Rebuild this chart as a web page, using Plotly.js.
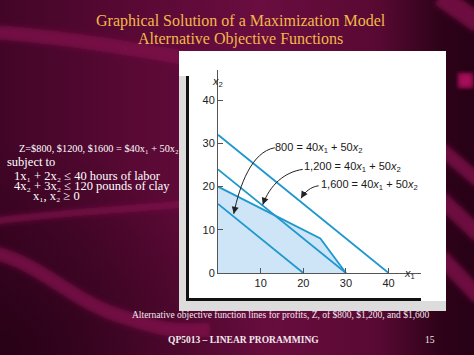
<!DOCTYPE html>
<html><head><meta charset="utf-8">
<script src="https://cdn.plot.ly/plotly-3.0.1.min.js"></script>
<style>
html,body{margin:0;padding:0;width:474px;height:355px;overflow:hidden;background:#4a0629;}
#bg{position:absolute;left:0;top:0;width:474px;height:355px;}
#chart{position:absolute;left:0;top:0;width:474px;height:355px;}
.p{position:absolute}
</style></head><body>
<svg id="bg" width="474" height="355" xmlns="http://www.w3.org/2000/svg">
  <defs>
    <linearGradient id="g1" x1="0" y1="0" x2="1" y2="0">
      <stop offset="0" stop-color="#420527"/>
      <stop offset="0.3" stop-color="#5a0935"/>
      <stop offset="0.55" stop-color="#6a0d40"/>
      <stop offset="0.8" stop-color="#580932"/>
      <stop offset="0.93" stop-color="#2e0219"/>
      <stop offset="1" stop-color="#270115"/>
    </linearGradient>
    <radialGradient id="g2" cx="0" cy="1" r="0.6">
      <stop offset="0" stop-color="#1e0010" stop-opacity="0.75"/>
      <stop offset="1" stop-color="#1e0010" stop-opacity="0"/>
    </radialGradient>
    <filter id="bl"><feGaussianBlur stdDeviation="2.5"/></filter>
  </defs>
  <rect width="474" height="355" fill="url(#g1)"/>
  <rect width="474" height="355" fill="url(#g2)"/>
  <g filter="url(#bl)" fill="none" stroke="#7e104b" stroke-opacity="0.8">
    <path d="M -10 32 C 60 36 140 50 220 64" stroke-width="14"/>
    <path d="M -10 222 C 40 214 120 210 185 204" stroke-width="7"/>
    <path d="M -10 252 C 40 262 70 300 120 316 S 170 330 210 330" stroke-width="14"/>
    <path d="M 440 -4 L 480 24" stroke-width="20"/>
    <path d="M 440 148 L 480 182" stroke-width="14"/>
    <path d="M 440 198 L 480 236" stroke-width="16"/>
    <path d="M 440 256 L 480 298" stroke-width="16"/>
  </g>
  <rect x="458" y="73" width="15" height="15" fill="#a8115a" filter="url(#bl)"/>
</svg>
<div class="p" style="left:179px;top:51px;width:267px;height:260px;background:#ffffff"></div>
<div class="p" style="left:179px;top:76px;width:7px;height:235px;background:#dcdcdc"></div>
<div class="p" style="left:179px;top:301px;width:267px;height:10px;background:#dcdcdc"></div>
<div class="p" style="left:186px;top:76px;width:3px;height:225px;background:#111"></div>
<div class="p" style="left:186px;top:298px;width:235px;height:3px;background:#111"></div>
<div id="chart"></div>
<script>
// ---- data ----
const x1Ticks = [10, 20, 30, 40];
const x2Ticks = [0, 10, 20, 30, 40];
const line800X = [0, 20];   const line800Y = [16, 0];
const line1200X = [0, 30];  const line1200Y = [24, 0];
const line1600X = [0, 40];  const line1600Y = [32, 0];
const regionX = [0, 30, 24, 0, 0];
const regionY = [0, 0, 8, 20, 0];
const borderX = [0, 24, 30];
const borderY = [20, 8, 0];
const lineLabels = ['800 = 40<i>x</i><sub>1</sub> + 50<i>x</i><sub>2</sub>',
                    '1,200 = 40<i>x</i><sub>1</sub> + 50<i>x</i><sub>2</sub>',
                    '1,600 = 40<i>x</i><sub>1</sub> + 50<i>x</i><sub>2</sub>'];
const labelX = [12.9, 19.8, 23.6];
const labelY = [28.9, 24.6, 20.4];
// curved leader arrows (cubic: start, ctrl1, ctrl2, head)
const arrowPts = [
  [[13.31, 29.0], [7.9, 28.05], [5.09, 20.4], [3.69, 13.7]],
  [[19.87, 23.99], [15.65, 23.4], [12.13, 20.4], [10.5, 15.8]],
  [[23.6, 20.2], [21.76, 19.95], [20.35, 18.8], [19.48, 17.3]]
];
const headOffsets = [[2, -9], [3, -8.5], [4.5, -7.7]];
const titleLines = ['Graphical Solution of a Maximization Model', 'Alternative Objective Functions'];
const modelLines = ['Z=$800, $1200, $1600 = $40x₁ + 50x₂',
                    'subject to',
                    '1x₁ + 2x₂ ≤ 40 hours of labor',
                    '4x₂ + 3x₂ ≤ 120 pounds of clay',
                    'x₁, x₂ ≥ 0'];
const caption = 'Alternative objective function lines for profits, Z, of $800, $1,200, and $1,600';
const footer = 'QP5013 – LINEAR PRORAMMING';
const pageNo = '15';

// ---- layout helpers (pixel -> paper) ----
const L = 218, R = 421, T = 70, B = 273;
const PX = x => (x - L) / (R - L);
const PY = y => (B - y) / (B - T);

const BLUE = '#1f97cf';
const traces = [
  {x: regionX, y: regionY, mode: 'lines', fill: 'toself', fillcolor: '#cde5f6',
   line: {width: 0, color: 'rgba(0,0,0,0)'}, hoverinfo: 'skip'},
  {x: borderX, y: borderY, mode: 'lines', line: {color: BLUE, width: 1.8}},
  {x: line800X, y: line800Y, mode: 'lines', line: {color: BLUE, width: 1.8}},
  {x: line1200X, y: line1200Y, mode: 'lines', line: {color: BLUE, width: 1.8}},
  {x: line1600X, y: line1600Y, mode: 'lines', line: {color: BLUE, width: 1.8}}
];

const shapes = arrowPts.map(p => ({
  type: 'path', xref: 'x', yref: 'y',
  path: `M ${p[0][0]} ${p[0][1]} C ${p[1][0]} ${p[1][1]} ${p[2][0]} ${p[2][1]} ${p[3][0]} ${p[3][1]}`,
  line: {color: '#222', width: 1}
}));

const annotations = [];
const sans = 'Liberation Sans, Arial, sans-serif';
const serif = 'Liberation Serif, Times New Roman, serif';
lineLabels.forEach((t, i) => annotations.push({
  x: labelX[i], y: labelY[i], xref: 'x', yref: 'y', text: t, showarrow: false,
  xanchor: 'left', yanchor: 'middle', font: {family: sans, size: 11, color: '#1a1a1a'}
}));
arrowPts.forEach((p, i) => annotations.push({
  x: p[3][0], y: p[3][1], xref: 'x', yref: 'y', text: '', showarrow: true,
  ax: headOffsets[i][0], ay: headOffsets[i][1], arrowhead: 2, arrowsize: 1.4,
  arrowwidth: 1, arrowcolor: '#222', standoff: 0
}));
// axis labels
annotations.push({x: PX(417), y: PY(283), xref: 'paper', yref: 'paper', showarrow: false,
  text: '<i>x</i><sub>1</sub>', font: {family: sans, size: 11, color: '#222'}});
annotations.push({x: PX(210), y: PY(73), xref: 'paper', yref: 'paper', showarrow: false,
  text: '<i>x</i><sub>2</sub>', font: {family: sans, size: 11, color: '#222'}});
// slide title
const titleY = [21, 39];
titleLines.forEach((t, i) => annotations.push({
  x: PX(240.5), y: PY(titleY[i]), xref: 'paper', yref: 'paper', showarrow: false,
  text: t, xanchor: 'center', yanchor: 'middle',
  font: {family: serif, size: 16, color: '#f2b84a'}
}));
// model text
const modelX = [18, 6, 13, 13, 32];
const modelY = [148, 162, 175.5, 185.5, 195.5];
const modelSize = [10.3, 12.5, 12.5, 12.5, 12.5];
modelLines.forEach((t, i) => annotations.push({
  x: PX(modelX[i]), y: PY(modelY[i]), xref: 'paper', yref: 'paper', showarrow: false,
  text: t, xanchor: 'left', yanchor: 'middle', borderpad: 0,
  font: {family: serif, size: modelSize[i], color: '#ffffff'}
}));
annotations.push({x: PX(130), y: PY(315), xref: 'paper', yref: 'paper', showarrow: false,
  text: caption, xanchor: 'left', yanchor: 'middle',
  font: {family: serif, size: 9.5, color: '#f4e8ee'}});
annotations.push({x: PX(243), y: PY(340), xref: 'paper', yref: 'paper', showarrow: false,
  text: '<b>' + footer + '</b>', xanchor: 'center', yanchor: 'middle',
  font: {family: serif, size: 9.5, color: '#f4e8ee'}});
annotations.push({x: PX(430), y: PY(340), xref: 'paper', yref: 'paper', showarrow: false,
  text: pageNo, xanchor: 'center', yanchor: 'middle',
  font: {family: serif, size: 9.5, color: '#f4e8ee'}});

const axisCommon = {
  showgrid: false, zeroline: false, showline: true, linecolor: '#555', linewidth: 1,
  ticks: 'inside', ticklen: 5, tickcolor: '#555', tickwidth: 1,
  tickfont: {family: sans, size: 11, color: '#222'}, fixedrange: true
};
const layout = {
  width: 474, height: 355,
  margin: {l: L, r: 474 - R, t: T, b: 355 - B, pad: 0},
  paper_bgcolor: 'rgba(0,0,0,0)', plot_bgcolor: 'rgba(0,0,0,0)',
  showlegend: false,
  xaxis: Object.assign({}, axisCommon, {range: [0, 47.6], tickvals: x1Ticks}),
  yaxis: Object.assign({}, axisCommon, {range: [0, 47], tickvals: x2Ticks}),
  shapes: shapes, annotations: annotations
};
Plotly.newPlot('chart', traces, layout, {displayModeBar: false, staticPlot: true});
</script>
</body></html>
